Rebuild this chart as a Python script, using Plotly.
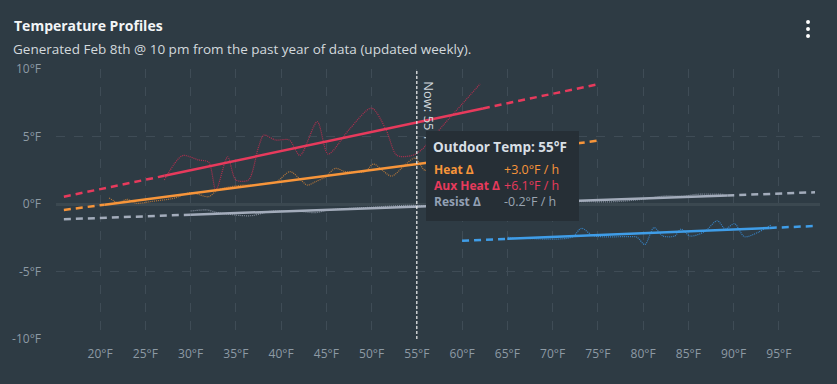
import plotly.graph_objects as go

# ---------------- data ----------------
x_tick_vals = [20, 25, 30, 35, 40, 45, 50, 55, 60, 65, 70, 75, 80, 85, 90, 95]
y_tick_vals = [-10, -5, 0, 5, 10]

# fitted trend lines (segment endpoints): dashed-before, solid, dashed-after
heat_fit_pre_x = [16, 20.5]
heat_fit_pre_y = [-0.44, -0.05]
heat_fit_x = [20.5, 57.0]
heat_fit_y = [-0.05, 3.13]
heat_fit_post_x = [57.0, 75]
heat_fit_post_y = [3.13, 4.69]

aux_fit_pre_x = [16, 27.1]
aux_fit_pre_y = [0.54, 2.09]
aux_fit_x = [27.1, 62.3]
aux_fit_y = [2.09, 7.08]
aux_fit_post_x = [62.3, 75]
aux_fit_post_y = [7.08, 8.87]

resist_fit_pre_x = [16, 30]
resist_fit_pre_y = [-1.13, -0.79]
resist_fit_x = [30, 89.3]
resist_fit_y = [-0.79, 0.63]
resist_fit_post_x = [89.3, 99]
resist_fit_post_y = [0.63, 0.87]

cool_fit_pre_x = [60, 65]
cool_fit_pre_y = [-2.72, -2.58]
cool_fit_x = [65, 94]
cool_fit_y = [-2.58, -1.77]
cool_fit_post_x = [94, 99]
cool_fit_post_y = [-1.77, -1.63]

# raw observed profiles
aux_raw_x = [27.1, 29.1, 30.9, 32.0, 32.8, 34.1, 35.0, 36.4, 37.5, 38.1, 39.4, 40.9,
             42.1, 44.0, 45.2, 47.5, 50.0, 51.6, 52.8, 54.5, 55.5, 58.0, 60.0, 62.0]
aux_raw_y = [1.78, 3.58, 3.26, 3.1, 1.04, 3.5, 1.78, 1.78, 4.2, 5.1, 4.74, 4.74,
             3.6, 6.1, 3.7, 5.5, 7.1, 5.5, 3.6, 3.6, 4.0, 5.9, 7.4, 8.9]

heat_raw_x = [21.0, 22.0, 23.0, 24.0, 25.8, 28.0, 28.7, 30.0, 32.0, 33.0, 35.7, 37.0,
              38.3, 39.4, 41.0, 42.0, 42.9, 43.8, 44.9, 46.0, 47.1, 49.3, 50.2, 52.2,
              53.7, 54.8, 55.9, 57.0]
heat_raw_y = [0.45, 0.1, 0.35, 0.05, 0.2, 0.4, 0.54, 0.85, 0.54, 1.04, 1.4, 1.4,
              1.53, 1.6, 2.4, 1.9, 1.4, 1.65, 2.0, 2.64, 2.4, 2.4, 2.96, 2.07,
              2.9, 3.4, 2.5, 2.8]

resist_raw_x = [30.0, 31.8, 33.0, 35.7, 36.8, 37.9, 39.0, 41.6, 43.8, 45.3, 47.8, 51.0,
                54.0, 57.0, 62.0, 67.0, 73.2, 76.8, 80.0, 82.3, 84.5, 86.0, 89.0]
resist_raw_y = [-0.52, -0.44, -0.64, -0.86, -0.86, -0.69, -0.52, -0.52, -0.64, -0.44,
                -0.32, -0.2, -0.1, -0.15, 0.0, 0.1, 0.17, 0.17, 0.35, 0.59, 0.59, 0.72, 0.72]

cool_raw_x = [65.1, 72.1, 73.2, 74.5, 78.3, 79.3, 80.2, 81.2, 82.2, 83.5, 84.2, 85.2,
              86.8, 88.2, 89.1, 90.1, 91.2, 92.7, 94.2]
cool_raw_y = [-2.47, -2.47, -1.8, -2.35, -2.42, -2.45, -3.0, -1.75, -2.37, -2.37, -1.86,
              -2.37, -2.05, -1.24, -1.85, -1.45, -2.42, -2.1, -1.53]

now_temp = 55
tooltip_title = "Outdoor Temp: 55°F"
tooltip_labels = ["Heat Δ", "Aux Heat Δ", "Resist Δ"]
tooltip_values = ["+3.0°F / h", "+6.1°F / h", "-0.2°F / h"]

# ---------------- style ----------------
BG = "#2e3b44"
FONT = "Open Sans"
C_HEAT = "#f7953a"
C_AUX = "#e73a5c"
C_RES = "#a3acbb"
C_COOL = "#3f9de8"
RAW = {"heat": "rgba(200,125,55,0.9)", "aux": "rgba(195,45,80,0.9)",
       "res": "rgba(140,150,165,0.9)", "cool": "rgba(55,135,205,0.95)"}

L, R, T, B = 54, 820, 69, 339
W, H = 837, 384


def px(x):
    return (x - L) / (R - L)


def py(y):
    return (B - y) / (B - T)


fig = go.Figure()


def raw(xs, ys, col):
    fig.add_trace(go.Scatter(x=xs, y=ys, mode="lines",
                             line=dict(color=col, width=1.2, dash="1px,1px", shape="spline", smoothing=0.8),
                             hoverinfo="skip", showlegend=False))


def fit(xs, ys, col, dashed):
    fig.add_trace(go.Scatter(x=xs, y=ys, mode="lines",
                             line=dict(color=col, width=2.5, dash="7px,5px" if dashed else "solid"),
                             hoverinfo="skip", showlegend=False))


raw(aux_raw_x, aux_raw_y, RAW["aux"])
raw(heat_raw_x, heat_raw_y, RAW["heat"])
raw(resist_raw_x, resist_raw_y, RAW["res"])
raw(cool_raw_x, cool_raw_y, RAW["cool"])

for pre_x, pre_y, sx, sy, post_x, post_y, col in [
    (resist_fit_pre_x, resist_fit_pre_y, resist_fit_x, resist_fit_y, resist_fit_post_x, resist_fit_post_y, C_RES),
    (cool_fit_pre_x, cool_fit_pre_y, cool_fit_x, cool_fit_y, cool_fit_post_x, cool_fit_post_y, C_COOL),
    (heat_fit_pre_x, heat_fit_pre_y, heat_fit_x, heat_fit_y, heat_fit_post_x, heat_fit_post_y, C_HEAT),
    (aux_fit_pre_x, aux_fit_pre_y, aux_fit_x, aux_fit_y, aux_fit_post_x, aux_fit_post_y, C_AUX),
]:
    fit(pre_x, pre_y, col, True)
    fit(sx, sy, col, False)
    fit(post_x, post_y, col, True)

shapes = []
# now line
shapes.append(dict(type="line", xref="x", yref="paper", x0=now_temp, x1=now_temp, y0=0, y1=1,
                   line=dict(color="#f2f2f2", width=1.2, dash="3px,2px"), layer="above"))
# menu dots
for cy in [22, 29, 36]:
    shapes.append(dict(type="circle", xref="paper", yref="paper",
                       x0=px(806), x1=px(810), y0=py(cy + 2), y1=py(cy - 2),
                       fillcolor="#ffffff", line=dict(width=0)))

annotations = []
annotations.append(dict(text="<b>Temperature Profiles</b>", xref="paper", yref="paper",
                        x=px(10), y=py(25), xanchor="left", yanchor="middle", showarrow=False,
                        font=dict(family=FONT, size=14, color="#f3f5f7")))
annotations.append(dict(text="Generated Feb 8th @ 10 pm from the past year of data (updated weekly).",
                        xref="paper", yref="paper", x=px(9), y=py(49), xanchor="left", yanchor="middle",
                        showarrow=False, font=dict(family=FONT, size=13.5, color="#d3d9dd")))
# now label
annotations.append(dict(text="Now: 55°F", xref="x", yref="paper", x=now_temp, y=py(79),
                        xanchor="left", yanchor="top", xshift=1, textangle=90, showarrow=False,
                        font=dict(family=FONT, size=13, color="#d0d7dc")))
# tooltip box
annotations.append(dict(text=" ", xref="paper", yref="paper", x=px(425), y=py(131),
                        xanchor="left", yanchor="top", width=153, height=90, showarrow=False,
                        bgcolor="#262f36", borderwidth=0, borderpad=0))
annotations.append(dict(text="<b>" + tooltip_title + "</b>", xref="paper", yref="paper",
                        x=px(430), y=py(147), xanchor="left", yanchor="middle", showarrow=False,
                        font=dict(family=FONT, size=13.5, color="#d8dfe5")))
row_cols = [(C_HEAT, C_HEAT), (C_AUX, C_AUX), ("#93a1b5", "#9aa5b2")]
for i, (lab, val) in enumerate(zip(tooltip_labels, tooltip_values)):
    cy = [169, 185, 201][i]
    annotations.append(dict(text="<b>" + lab + "</b>", xref="paper", yref="paper",
                            x=px(431), y=py(cy), xanchor="left", yanchor="middle", showarrow=False,
                            font=dict(family=FONT, size=12, color=row_cols[i][0])))
    annotations.append(dict(text=val, xref="paper", yref="paper",
                            x=px(501), y=py(cy), xanchor="left", yanchor="middle", showarrow=False,
                            font=dict(family=FONT, size=12.5, color=row_cols[i][1])))

fig.update_layout(
    width=W, height=H,
    margin=dict(l=L, r=W - R, t=T, b=H - B, pad=0),
    paper_bgcolor=BG, plot_bgcolor=BG,
    font=dict(family=FONT, color="#8d9aa4", size=12),
    showlegend=False, hovermode=False,
    shapes=shapes, annotations=annotations,
    xaxis=dict(range=[15.13, 99.55], tickvals=x_tick_vals,
               ticktext=[f"{v}°F" for v in x_tick_vals], showgrid=True,
               gridcolor="#3f4c56", griddash="dash", gridwidth=1, zeroline=False,
               showline=False, ticks="", ticklabelstandoff=6,
               tickfont=dict(size=12, color="#8d9aa4")),
    yaxis=dict(range=[-10, 10], tickvals=y_tick_vals,
               ticktext=[f"{v}°F" for v in y_tick_vals], showgrid=True,
               gridcolor="#3f4c56", griddash="dash", gridwidth=1,
               zeroline=True, zerolinecolor="#3b4850", zerolinewidth=3,
               showline=False, ticks="", ticklabelstandoff=14,
               tickfont=dict(size=12, color="#8d9aa4")),
)

fig.write_html("out.html", config={"displayModeBar": False},
               post_script="document.body.style.margin='0';document.body.style.background='%s';" % BG)
